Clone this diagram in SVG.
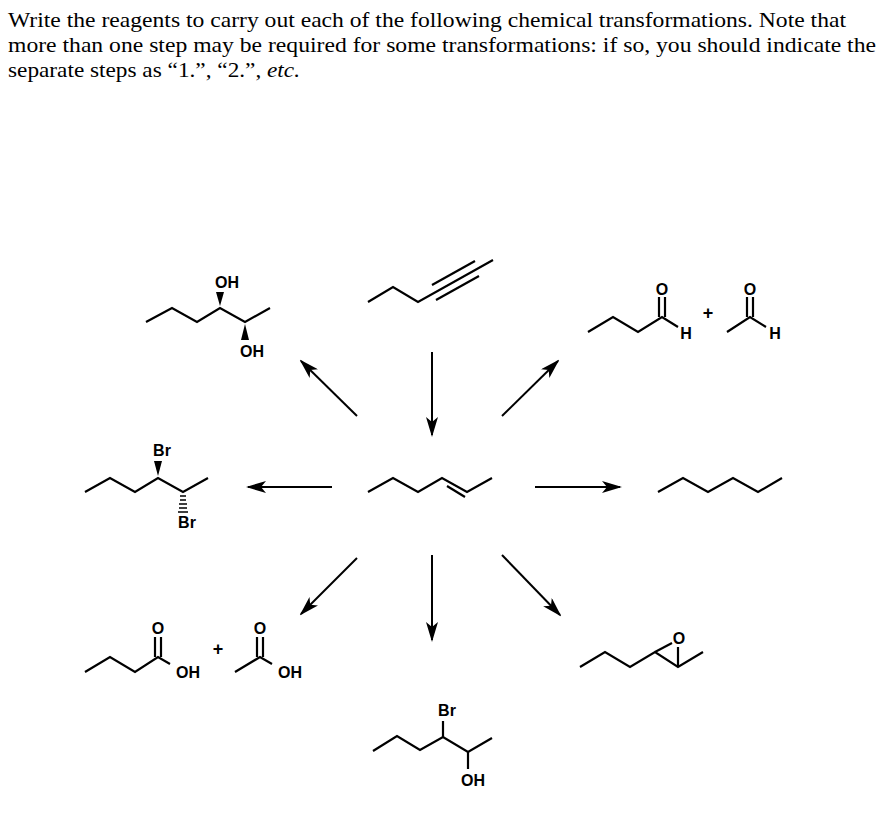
<svg xmlns="http://www.w3.org/2000/svg" width="888" height="814" viewBox="0 0 888 814">
<style>
.hd{font-family:"Liberation Serif",serif;font-size:22px;fill:#000}
.b{fill:none;stroke:#000;stroke-width:2.2;stroke-linejoin:miter}
.a{fill:none;stroke:#000;stroke-width:2}
.t{font-family:"Liberation Sans",Arial,sans-serif;font-size:16px;font-weight:bold;text-anchor:middle;fill:#000}
.p{font-family:"Liberation Sans",Arial,sans-serif;font-size:18px;font-weight:bold;text-anchor:middle;fill:#000}
</style>
<defs><marker id="ar" viewBox="0 0 20 12" refX="18" refY="6" markerWidth="20" markerHeight="12" markerUnits="userSpaceOnUse" orient="auto"><path d="M0,0 L20,6 L0,12 L5,6 Z" fill="#000"/></marker></defs>
<rect width="888" height="814" fill="#fff"/>
<g id="header">
<text class="hd" x="8" y="27" textLength="838" lengthAdjust="spacingAndGlyphs">Write the reagents to carry out each of the following chemical transformations. Note that</text>
<text class="hd" x="8" y="52" textLength="868" lengthAdjust="spacingAndGlyphs">more than one step may be required for some transformations: if so, you should indicate the</text>
<text class="hd" x="8" y="77" textLength="292" lengthAdjust="spacingAndGlyphs">separate steps as “1.”, “2.”, <tspan font-style="italic">etc.</tspan></text>
</g>
<g id="alkyne">
<polyline class="b" points="368,302 393,287 418,302 493,260"/>
<line class="b" x1="432" y1="285" x2="475" y2="261"/>
<line class="b" x1="436" y1="300" x2="479" y2="276"/>
</g>
<g id="diol">
<polyline class="b" points="146,322 172,308 197,322 220,308 245,322 270,308"/>
<polygon points="220,306 216,292 224,292" fill="#000"/>
<polygon points="245,324 241,340 249,340" fill="#000"/>
<text class="t" x="227" y="288">OH</text>
<text class="t" x="252" y="357">OH</text>
</g>
<g id="aldehydes">
<polyline class="b" points="588,332 613,317 638,332 662,317 678,327"/>
<line class="b" x1="659" y1="317" x2="659" y2="297"/>
<line class="b" x1="665" y1="317" x2="665" y2="297"/>
<text class="t" x="662" y="295">O</text>
<text class="t" x="686" y="339">H</text>
<text class="p" x="708" y="319">+</text>
<polyline class="b" points="727,332 750,317 766,327"/>
<line class="b" x1="747" y1="317" x2="747" y2="297"/>
<line class="b" x1="753" y1="317" x2="753" y2="297"/>
<text class="t" x="750" y="295">O</text>
<text class="t" x="775" y="339">H</text>
</g>
<g id="dibromide">
<polyline class="b" points="85,492 110,478 135,492 158,478 183,492 208,478"/>
<polygon points="158,476 154,461 162,461" fill="#000"/>
<path d="M180,496h6M180,500h6M179,504h8M179,508h8M178,512h10" stroke="#000" stroke-width="1.5"/>
<text class="t" x="162" y="456">Br</text>
<text class="t" x="187" y="528">Br</text>
</g>
<g id="alkene">
<polyline class="b" points="368,492 393,478 418,492 442,478 467,492 492,478"/>
<line class="b" x1="447" y1="486" x2="465" y2="497"/>
</g>
<g id="hexane">
<polyline class="b" points="658,492 683,478 708,492 733,478 758,492 782,478"/>
</g>
<g id="acids">
<polyline class="b" points="85,672 110,657 135,672 158,657 170,664"/>
<line class="b" x1="155" y1="657" x2="155" y2="637"/>
<line class="b" x1="161" y1="657" x2="161" y2="637"/>
<text class="t" x="158" y="634">O</text>
<text class="t" x="188" y="678">OH</text>
<text class="p" x="218" y="655">+</text>
<polyline class="b" points="235,672 260,657 272,664"/>
<line class="b" x1="257" y1="657" x2="257" y2="637"/>
<line class="b" x1="263" y1="657" x2="263" y2="637"/>
<text class="t" x="260" y="634">O</text>
<text class="t" x="290" y="678">OH</text>
</g>
<g id="epoxide">
<polyline class="b" points="580,667 605,652 630,667 655,652 678,667 703,652"/>
<line class="b" x1="655" y1="652" x2="672" y2="643"/>
<line class="b" x1="678" y1="667" x2="678" y2="647"/>
<text class="t" x="679" y="644">O</text>
</g>
<g id="bromohydrin">
<polyline class="b" points="373,751 397,736 420,750 443,737 468,752 492,738"/>
<line class="b" x1="443" y1="737" x2="443" y2="721"/>
<line class="b" x1="468" y1="752" x2="468" y2="769"/>
<text class="t" x="447" y="716">Br</text>
<text class="t" x="473" y="786">OH</text>
</g>
<g id="connectors">
<line class="a" x1="357" y1="416" x2="301" y2="361" marker-end="url(#ar)"/>
<line class="a" x1="432" y1="352" x2="432" y2="435" marker-end="url(#ar)"/>
<line class="a" x1="502" y1="416" x2="558" y2="361" marker-end="url(#ar)"/>
<line class="a" x1="332" y1="487" x2="248" y2="487" marker-end="url(#ar)"/>
<line class="a" x1="535" y1="487" x2="620" y2="487" marker-end="url(#ar)"/>
<line class="a" x1="357" y1="558" x2="301" y2="614" marker-end="url(#ar)"/>
<line class="a" x1="432" y1="555" x2="432" y2="640" marker-end="url(#ar)"/>
<line class="a" x1="502" y1="555" x2="560" y2="615" marker-end="url(#ar)"/>
</g>
</svg>
